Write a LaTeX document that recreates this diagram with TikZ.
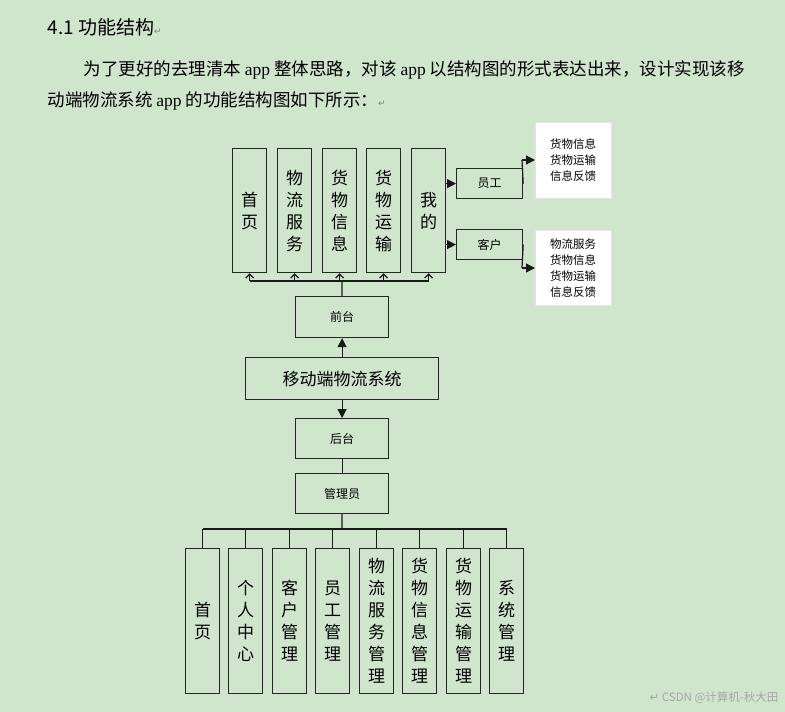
\documentclass[tikz,border=0pt]{standalone}
\usepackage{fontspec}
\setmainfont{Liberation Serif}
\newfontfamily\cjk{Noto Sans CJK SC}
\newfontfamily\djfont{DejaVu Sans}
\newcommand{\myret}{\textcolor{black!50}{\djfont\fontsize{9}{9}\selectfont ↵}}
\usetikzlibrary{arrows.meta}
\begin{document}
\begin{tikzpicture}[x=1pt,y=-1pt,
  box/.style={draw=black!85,line width=1.2pt,fill=none,inner sep=0pt,font=\cjk\fontsize{17}{22}\selectfont,align=center},
  sm/.style={box,font=\cjk\fontsize{12}{14}\selectfont},
  note/.style={fill=white,draw=black!10,inner sep=0pt,font=\cjk\fontsize{11.5}{16}\selectfont,align=center},
  ln/.style={line width=1.2pt,black!90},
  oa/.style={ln,-{Straight Barb[length=4pt,width=8pt]}},
  fa/.style={ln,-{Triangle[length=9pt,width=9pt]}}]
\fill[fill={rgb,255:red,207;green,230;blue,204}] (0,0) rectangle (785,712);
\useasboundingbox (0,0) rectangle (785,712);
\node[anchor=west,font=\cjk\fontsize{19}{22}\selectfont] (h) at (44,27) {4.1 功能结构\myret};
\node[anchor=west,font=\cjk\fontsize{17.5}{20}\selectfont] (p1) at (80,70) {为了更好的去理清本 \rmfamily app\cjk{} 整体思路，对该 \rmfamily app\cjk{} 以结构图的形式表达出来，设计实现该移};
\node[anchor=west,font=\cjk\fontsize{17.5}{20}\selectfont] (p2) at (44,101) {动端物流系统 \rmfamily app\cjk{} 的功能结构图如下所示：\myret};
% top row
\foreach \n/\x/\t in {t1/232/首\\页, t2/277/物\\流\\服\\务, t3/322/货\\物\\信\\息, t4/366/货\\物\\运\\输, t5/411/我\\的}
  \node[box,minimum width=34pt,minimum height=124pt,anchor=north west] (\n) at (\x,148) {\t};
\node[sm,minimum width=93pt,minimum height=41pt,anchor=north west] (qt) at (295,296) {前台};
\node[box,minimum width=193pt,minimum height=42pt,anchor=north west] (sys) at (245,357) {移动端物流系统};
\node[sm,minimum width=93pt,minimum height=40pt,anchor=north west] (ht) at (295,418) {后台};
\node[sm,minimum width=93pt,minimum height=40pt,anchor=north west] (gly) at (295,473) {管理员};
\node[sm,minimum width=66pt,minimum height=30pt,anchor=north west] (yg) at (456,168) {员工};
\node[sm,minimum width=66pt,minimum height=30pt,anchor=north west] (kh) at (456,229) {客户};
\node[note,minimum width=76pt,minimum height=76pt,anchor=north west] (n1) at (535,122) {货物信息\\货物运输\\信息反馈};
\node[note,minimum width=76pt,minimum height=75pt,anchor=north west] (n2) at (535,230) {物流服务\\货物信息\\货物运输\\信息反馈};
\coordinate (bt) at (342,281);
\draw[ln] (qt.north) -- (bt);
\draw[ln] (t1.south|-bt) -- (t5.south|-bt);
\foreach \n in {t1,t2,t3,t4,t5} \draw[oa] (\n.south|-bt) -- (\n.south);
\draw[fa] (sys.north) -- (qt.south);
\draw[fa] (sys.south) -- (ht.north);
\draw[ln] (ht.south) -- (gly.north);
\draw[fa] (t5.east|-yg) -- (yg.west);
\draw[fa] (t5.east|-kh) -- (kh.west);
\coordinate (c1) at (522,160); \coordinate (c2) at (522,268);
\draw[ln] (yg.east) -- (c1); \draw[fa] (c1) -- (c1-|n1.west);
\draw[ln] (kh.east) -- (c2); \draw[fa] (c2) -- (c2-|n2.west);
% bottom row
\coordinate (bb) at (342,529);
\draw[ln] (gly.south) -- (bb);
\foreach \n/\x/\t in {b1/185/首\\页, b2/228/个\\人\\中\\心, b3/272/客\\户\\管\\理, b4/315/员\\工\\管\\理, b5/359/物\\流\\服\\务\\管\\理, b6/402/货\\物\\信\\息\\管\\理, b7/446/货\\物\\运\\输\\管\\理, b8/489/系\\统\\管\\理}
  {\node[box,minimum width=34pt,minimum height=145pt,anchor=north west] (\n) at (\x,548) {\t};
   \draw[ln] (\n.north) -- (\n.north|-bb);}
\draw[ln] (b1.north|-bb) -- (b8.north|-bb);
\node[anchor=east,font=\cjk\fontsize{11.5}{12}\selectfont,text=black!35] (wm) at (782,698) {{\djfont ↵} CSDN @计算机-秋大田};
\end{tikzpicture}
\end{document}
